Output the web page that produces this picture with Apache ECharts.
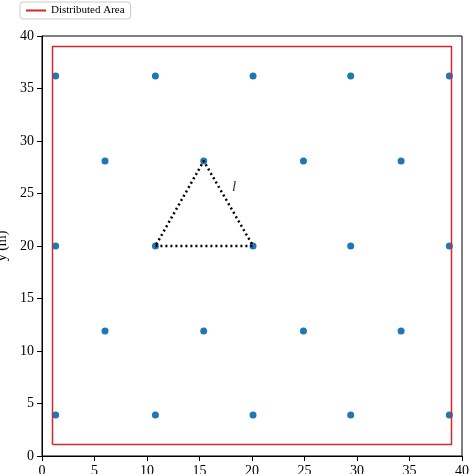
<!DOCTYPE html><html><head><meta charset="utf-8"><script src="https://cdn.jsdelivr.net/npm/echarts@6/dist/echarts.min.js"></script></head><body style="margin:0"><div id="c" style="width:474px;height:474px"></div><script>
const pointsX = [1.3,10.8,20.1,29.4,38.8, 6.0,15.4,24.9,34.2, 1.3,10.8,20.1,29.4,38.8, 6.0,15.4,24.9,34.2, 1.3,10.8,20.1,29.4,38.8];
const pointsY = [3.9,3.9,3.9,3.9,3.9, 11.9,11.9,11.9,11.9, 20,20,20,20,20, 28.1,28.1,28.1,28.1, 36.2,36.2,36.2,36.2,36.2];
const areaX = [1,39,39,1,1];
const areaY = [1.1,1.1,39,39,1.1];
const triX = [10.8,20.1,15.4,10.8];
const triY = [20,20,28.1,20];
const labelPos = [18.3,25.6];
const font = 'Liberation Serif';
const ax = {min:0,max:40,interval:5,axisLine:{lineStyle:{color:'#000'}},axisTick:{inside:false,lineStyle:{color:'#000'}},axisLabel:{color:'#000',fontFamily:font,fontSize:14},splitLine:{show:false}};
const ch = echarts.init(document.getElementById('c'));
ch.setOption({
 animation:false,
 grid:{left:42,right:12,top:36,bottom:18,containLabel:false,outerBoundsMode:'none',show:true,borderColor:'#000',borderWidth:1},
 legend:{left:20,top:2,itemWidth:20,itemHeight:2,data:[{name:'Distributed Area',icon:'rect'}],textStyle:{fontFamily:font,fontSize:11,color:'#000'},borderColor:'#ccc',borderWidth:1,borderRadius:3,padding:[3,6]},
 xAxis:{type:'value',...ax},
 yAxis:{type:'value',...ax,name:'y (m)',nameLocation:'middle',nameGap:28,nameTextStyle:{fontFamily:font,fontSize:14,color:'#000'}},
 series:[
  {name:'Distributed Area',type:'line',data:areaX.map((x,i)=>[x,areaY[i]]),symbol:'none',lineStyle:{color:'#d62728',width:1.5},itemStyle:{color:'#d62728'}},
  {type:'line',data:triX.map((x,i)=>[x,triY[i]]),symbol:'none',lineStyle:{color:'#000',width:2.5,type:[2,3]}},
  {type:'scatter',data:[labelPos],symbolSize:0,label:{show:true,position:'inside',formatter:'l',fontFamily:font,fontStyle:'italic',fontSize:15,color:'#000'}},
  {type:'scatter',data:pointsX.map((x,i)=>[x,pointsY[i]]),symbolSize:7,itemStyle:{color:'#1f77b4',opacity:1}}
 ]
});
</script></body></html>
